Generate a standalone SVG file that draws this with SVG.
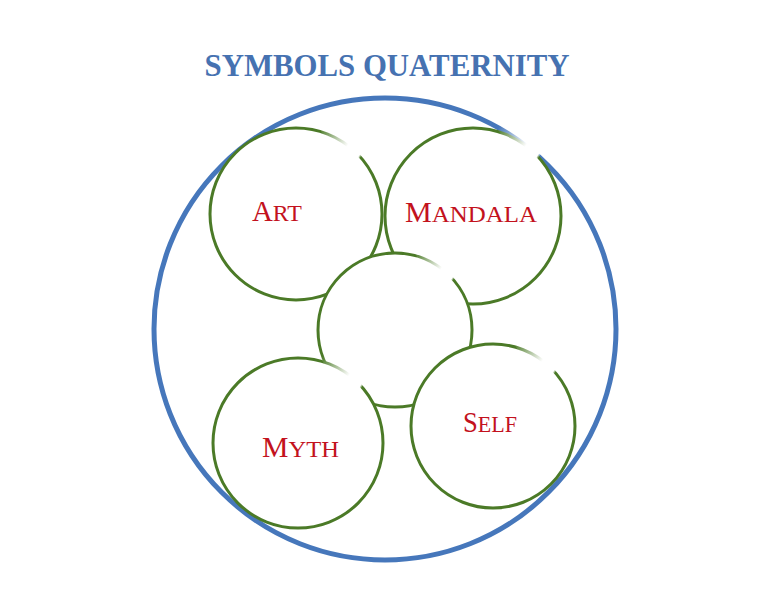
<svg xmlns="http://www.w3.org/2000/svg" width="768" height="593" viewBox="0 0 768 593">
<style>
.ring{fill:none;stroke:#4677bb;stroke-width:5}
.node{fill:#ffffff;stroke:#4b7a27;stroke-width:3}
.glare{fill:url(#glareGrad)}
.title{font-family:"Liberation Serif","DejaVu Serif",serif;font-size:31px;font-weight:bold;fill:#4672b1}
.label{font-family:"Liberation Serif","DejaVu Serif",serif;fill:#c3121d}
.big{font-size:29px}
.small{font-size:24px}
</style>
<defs>
<linearGradient id="glareGrad" x1="0" y1="0" x2="1" y2="0">
<stop offset="0" stop-color="#ffffff" stop-opacity="0"/>
<stop offset="0.55" stop-color="#ffffff" stop-opacity="1"/>
<stop offset="0.8" stop-color="#ffffff" stop-opacity="1"/>
<stop offset="0.84" stop-color="#ffffff" stop-opacity="0"/>
</linearGradient>
</defs>
<rect width="768" height="593" fill="#ffffff"/>
<text id="title" class="title" x="387" y="76" text-anchor="middle" textLength="365" lengthAdjust="spacingAndGlyphs">SYMBOLS QUATERNITY</text>
<g id="outer">
<circle class="ring" cx="385" cy="329" r="231" fill="#ffffff"/>
</g>
<g id="connectors"></g>
<g id="art">
<circle class="node" cx="296" cy="214" r="86"/>
<ellipse class="glare" cx="345.4" cy="143.6" rx="30" ry="9" transform="rotate(35 345.4 143.6)"/>
<text class="label" x="252" y="221" textLength="50" lengthAdjust="spacingAndGlyphs"><tspan class="big">A</tspan><tspan class="small">RT</tspan></text>
</g>
<g id="mandala">
<circle class="node" cx="473" cy="216" r="88"/>
<ellipse class="glare" cx="523.5" cy="143.9" rx="30" ry="9" transform="rotate(35 523.5 143.9)"/>
<text class="label" x="405" y="222" textLength="132" lengthAdjust="spacingAndGlyphs"><tspan class="big">M</tspan><tspan class="small">ANDALA</tspan></text>
</g>
<g id="center">
<circle class="node" cx="395" cy="330" r="77"/>
<ellipse class="glare" cx="439.2" cy="266.9" rx="28" ry="9" transform="rotate(35 439.2 266.9)"/>
</g>
<g id="myth">
<circle class="node" cx="298" cy="443" r="85"/>
<ellipse class="glare" cx="346.8" cy="373.4" rx="30" ry="9" transform="rotate(35 346.8 373.4)"/>
<text class="label" x="262" y="457" textLength="77" lengthAdjust="spacingAndGlyphs"><tspan class="big">M</tspan><tspan class="small">YTH</tspan></text>
</g>
<g id="self">
<circle class="node" cx="493" cy="426" r="82"/>
<ellipse class="glare" cx="540.1" cy="358.8" rx="30" ry="9" transform="rotate(35 540.1 358.8)"/>
<text class="label" x="463" y="432" textLength="54" lengthAdjust="spacingAndGlyphs"><tspan class="big">S</tspan><tspan class="small">ELF</tspan></text>
</g>
</svg>
